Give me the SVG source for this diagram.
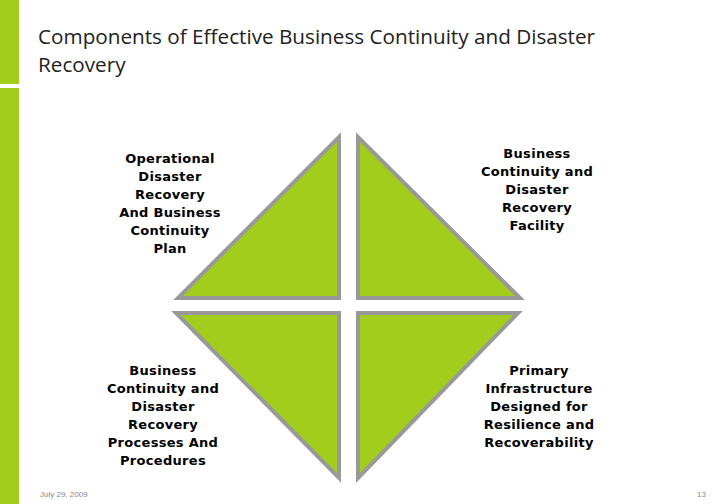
<svg xmlns="http://www.w3.org/2000/svg" width="728" height="504" viewBox="0 0 728 504">
<style>
.t{fill:#a3cd1c;stroke:#999;stroke-width:4;stroke-linejoin:miter}
.l{font-family:"DejaVu Sans",sans-serif;font-size:13px;font-weight:bold;fill:#000;text-anchor:middle;letter-spacing:0.3px}
.f{font-family:"Liberation Sans",sans-serif;font-size:8px;fill:#888}
</style>
<rect width="728" height="504" fill="#fff"/>
<rect x="0" y="0" width="19" height="84" fill="#a3cd1c"/>
<rect x="0" y="88" width="19" height="416" fill="#a3cd1c"/>
<text font-family="'Open Sans','DejaVu Sans',sans-serif" font-size="20.7" fill="#222" x="38" y="44">Components of Effective Business Continuity and Disaster</text>
<text font-family="'Open Sans','DejaVu Sans',sans-serif" font-size="20.7" fill="#222" x="38" y="72">Recovery</text>
<g id="tl"><polygon class="t" points="178,298 339,298 339,137"/>
<text class="l" x="170" y="163">Operational</text><text class="l" x="170" y="181">Disaster</text><text class="l" x="170" y="199">Recovery</text><text class="l" x="170" y="217">And Business</text><text class="l" x="170" y="235">Continuity</text><text class="l" x="170" y="253">Plan</text></g>
<g id="tr"><polygon class="t" points="358,137 358,298 520,298"/>
<text class="l" x="537" y="158">Business</text><text class="l" x="537" y="176">Continuity and</text><text class="l" x="537" y="194">Disaster</text><text class="l" x="537" y="212">Recovery</text><text class="l" x="537" y="230">Facility</text></g>
<g id="bl"><polygon class="t" points="176,313 339,313 339,478"/>
<text class="l" x="163" y="375">Business</text><text class="l" x="163" y="393">Continuity and</text><text class="l" x="163" y="411">Disaster</text><text class="l" x="163" y="429">Recovery</text><text class="l" x="163" y="447">Processes And</text><text class="l" x="163" y="465">Procedures</text></g>
<g id="br"><polygon class="t" points="358,313 518,313 358,478"/>
<text class="l" x="539" y="375">Primary</text><text class="l" x="539" y="393">Infrastructure</text><text class="l" x="539" y="411">Designed for</text><text class="l" x="539" y="429">Resilience and</text><text class="l" x="539" y="447">Recoverability</text></g>
<g id="connectors"/>
<text class="f" x="40" y="497">July 29, 2009</text>
<text class="f" x="697" y="497">13</text>
</svg>
